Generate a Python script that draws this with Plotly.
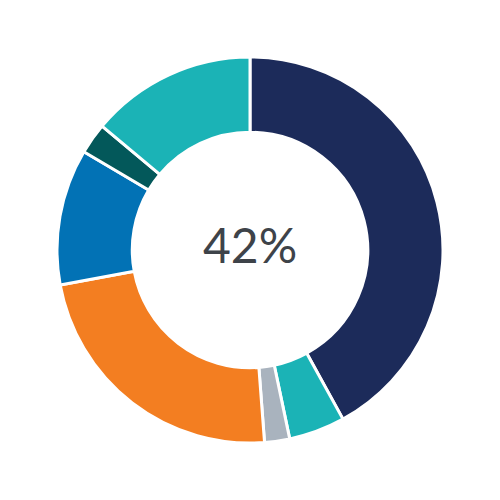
import plotly.graph_objects as go

labels = ["Segment A", "Segment B", "Segment C", "Segment D", "Segment E", "Segment F", "Segment G"]
values = [42.0, 4.7, 2.1, 23.3, 11.4, 2.6, 13.9]
colors = ["#1c2b5a", "#1bb3b6", "#a9b3be", "#f37e21", "#0272b5", "#03585a", "#1bb3b6"]
center_text = "42%"

# figure is offset by the page body margin (8px); compensate in domain
cx, cy = 242 / 500, 258 / 500
r = 193 / 500
fig = go.Figure(go.Pie(
    labels=labels,
    values=values,
    hole=0.61,
    sort=False,
    direction="clockwise",
    rotation=0,
    marker=dict(colors=colors, line=dict(color="white", width=3)),
    textinfo="none",
    hoverinfo="label+percent",
    domain=dict(x=[cx - r, cx + r], y=[cy - r, cy + r]),
))
fig.add_annotation(text=center_text, x=cx, y=cy, xref="paper", yref="paper", yshift=6,
                   showarrow=False, font=dict(family="Lato", size=48, color="#3e4349"))
fig.update_layout(width=500, height=500, margin=dict(l=0, r=0, t=0, b=0),
                  showlegend=False, paper_bgcolor="white", plot_bgcolor="white")
fig.write_html("out.html")
